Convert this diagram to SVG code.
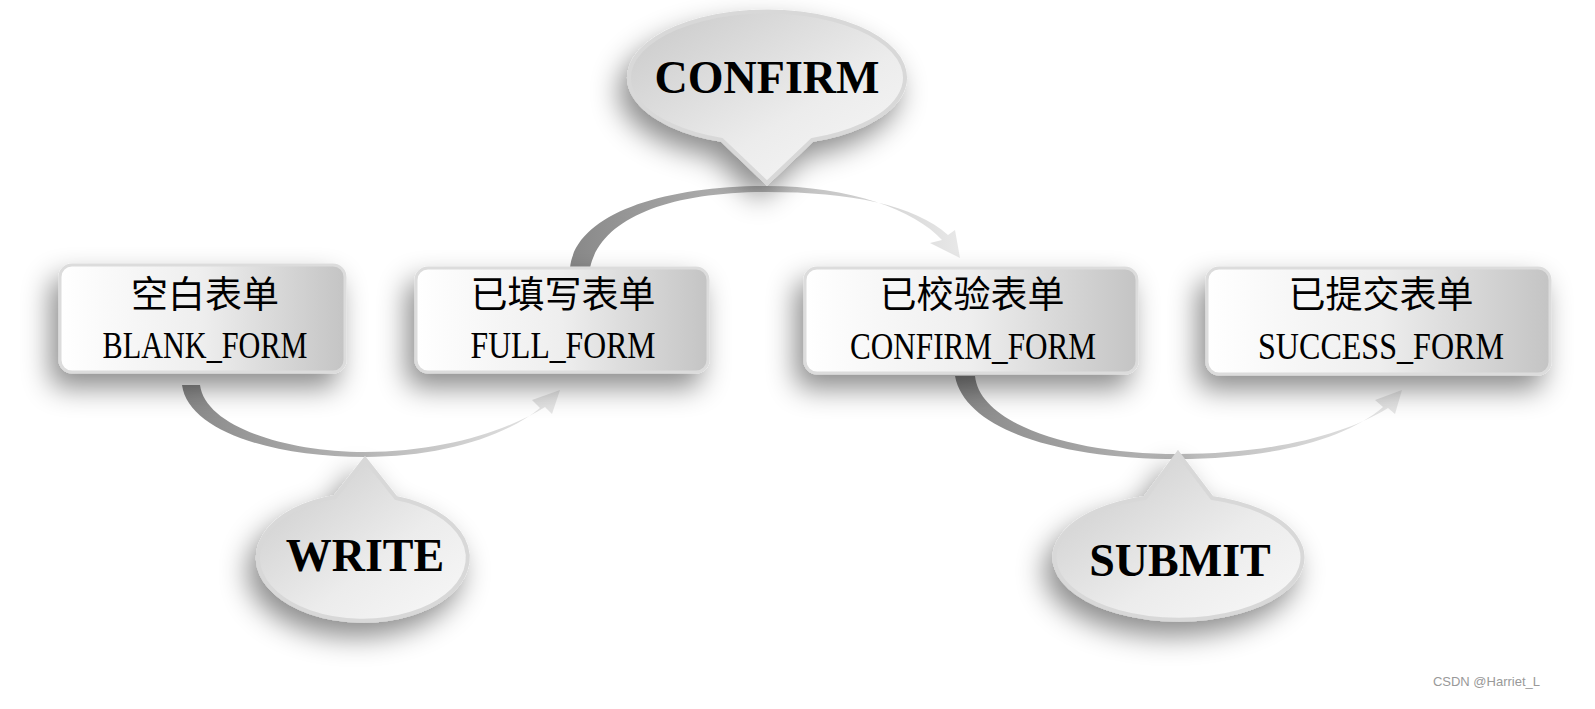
<svg xmlns="http://www.w3.org/2000/svg" width="1595" height="709" viewBox="0 0 1595 709">
<defs>
<linearGradient id="box" x1="0" y1="0" x2="1" y2="0"><stop offset="0" stop-color="#ffffff"/><stop offset="0.5" stop-color="#eeeeee"/><stop offset="1" stop-color="#c4c4c4"/></linearGradient>
<linearGradient id="bub" x1="0" y1="0" x2="1" y2="1"><stop offset="0" stop-color="#c8c8c8"/><stop offset="0.6" stop-color="#ececec"/><stop offset="1" stop-color="#f8f8f8"/></linearGradient>
<linearGradient id="arr" x1="0" y1="0" x2="1" y2="0"><stop offset="0" stop-color="#888"/><stop offset="1" stop-color="#e8e8e8"/></linearGradient>
<filter id="sh" x="-30%" y="-30%" width="160%" height="180%"><feDropShadow dx="-8" dy="14" stdDeviation="14" flood-color="#000" flood-opacity="0.45"/></filter>
<style>
.box{fill:url(#box);stroke:#dcdcdc;stroke-width:3;filter:url(#sh)}
.bub{fill:url(#bub);stroke:#d8d8d8;stroke-width:4;filter:url(#sh)}
.arr{fill:url(#arr)}
.cn{font-family:"Noto Sans CJK SC",sans-serif;font-size:37px;fill:#000;text-anchor:middle}
.en{font-family:"Liberation Serif",serif;font-size:38px;fill:#000;text-anchor:middle}
.lb{font-family:"Liberation Serif",serif;font-size:46px;font-weight:bold;fill:#000;text-anchor:middle}
</style>
</defs>
<g id="connectors">
<path class="arr" d="M182,385 C188,430 270,457 365,457 C440,457 505,437 540,408 L532,400 L560,390 L552,414 L545,407 C505,432 440,452 365,452 C282,452 205,425 200,385 Z"/>
<path class="arr" d="M570,268 C575,215 660,186 767,186 C850,186 915,210 942,240 L930,243 L960,258 L955,230 L948,235 C915,205 850,192 767,192 C665,192 600,220 590,268 Z"/>
<path class="arr" d="M955,376 C965,430 1060,459 1178,459 C1270,459 1345,440 1383,407 L1375,400 L1402,390 L1395,414 L1388,408 C1345,435 1270,454 1178,454 C1075,454 980,425 975,376 Z"/>
</g>
<g id="blank"><rect class="box" x="60" y="265" width="285" height="107" rx="12"/><text class="cn" x="205" y="308">空白表单</text><text class="en" x="205" y="358" textLength="205" lengthAdjust="spacingAndGlyphs">BLANK_FORM</text></g>
<g id="full"><rect class="box" x="416" y="268" width="292" height="104" rx="12"/><text class="cn" x="563" y="308">已填写表单</text><text class="en" x="563" y="358" textLength="185" lengthAdjust="spacingAndGlyphs">FULL_FORM</text></g>
<g id="confirmform"><rect class="box" x="805" y="268" width="332" height="105" rx="12"/><text class="cn" x="972" y="308">已校验表单</text><text class="en" x="973" y="359" textLength="246" lengthAdjust="spacingAndGlyphs">CONFIRM_FORM</text></g>
<g id="success"><rect class="box" x="1207" y="268" width="343" height="106" rx="12"/><text class="cn" x="1381" y="308">已提交表单</text><text class="en" x="1381" y="359" textLength="246" lengthAdjust="spacingAndGlyphs">SUCCESS_FORM</text></g>
<g id="confirm"><path class="bub" d="M722,140 A138,66 0 1 1 812,140 L767,183 Z"/><text class="lb" x="767" y="93">CONFIRM</text></g>
<g id="write"><path class="bub" d="M335,497 L365,459 L396,498 A105,63 0 1 1 335,497 Z"/><text class="lb" x="365" y="571">WRITE</text></g>
<g id="submit"><path class="bub" d="M1145,498 L1178,453 L1212,498 A124,62 0 1 1 1145,498 Z"/><text class="lb" x="1180" y="576">SUBMIT</text></g>
<text x="1540" y="686" font-family="Liberation Sans,sans-serif" font-size="13" fill="#999" text-anchor="end">CSDN @Harriet_L</text>
</svg>
